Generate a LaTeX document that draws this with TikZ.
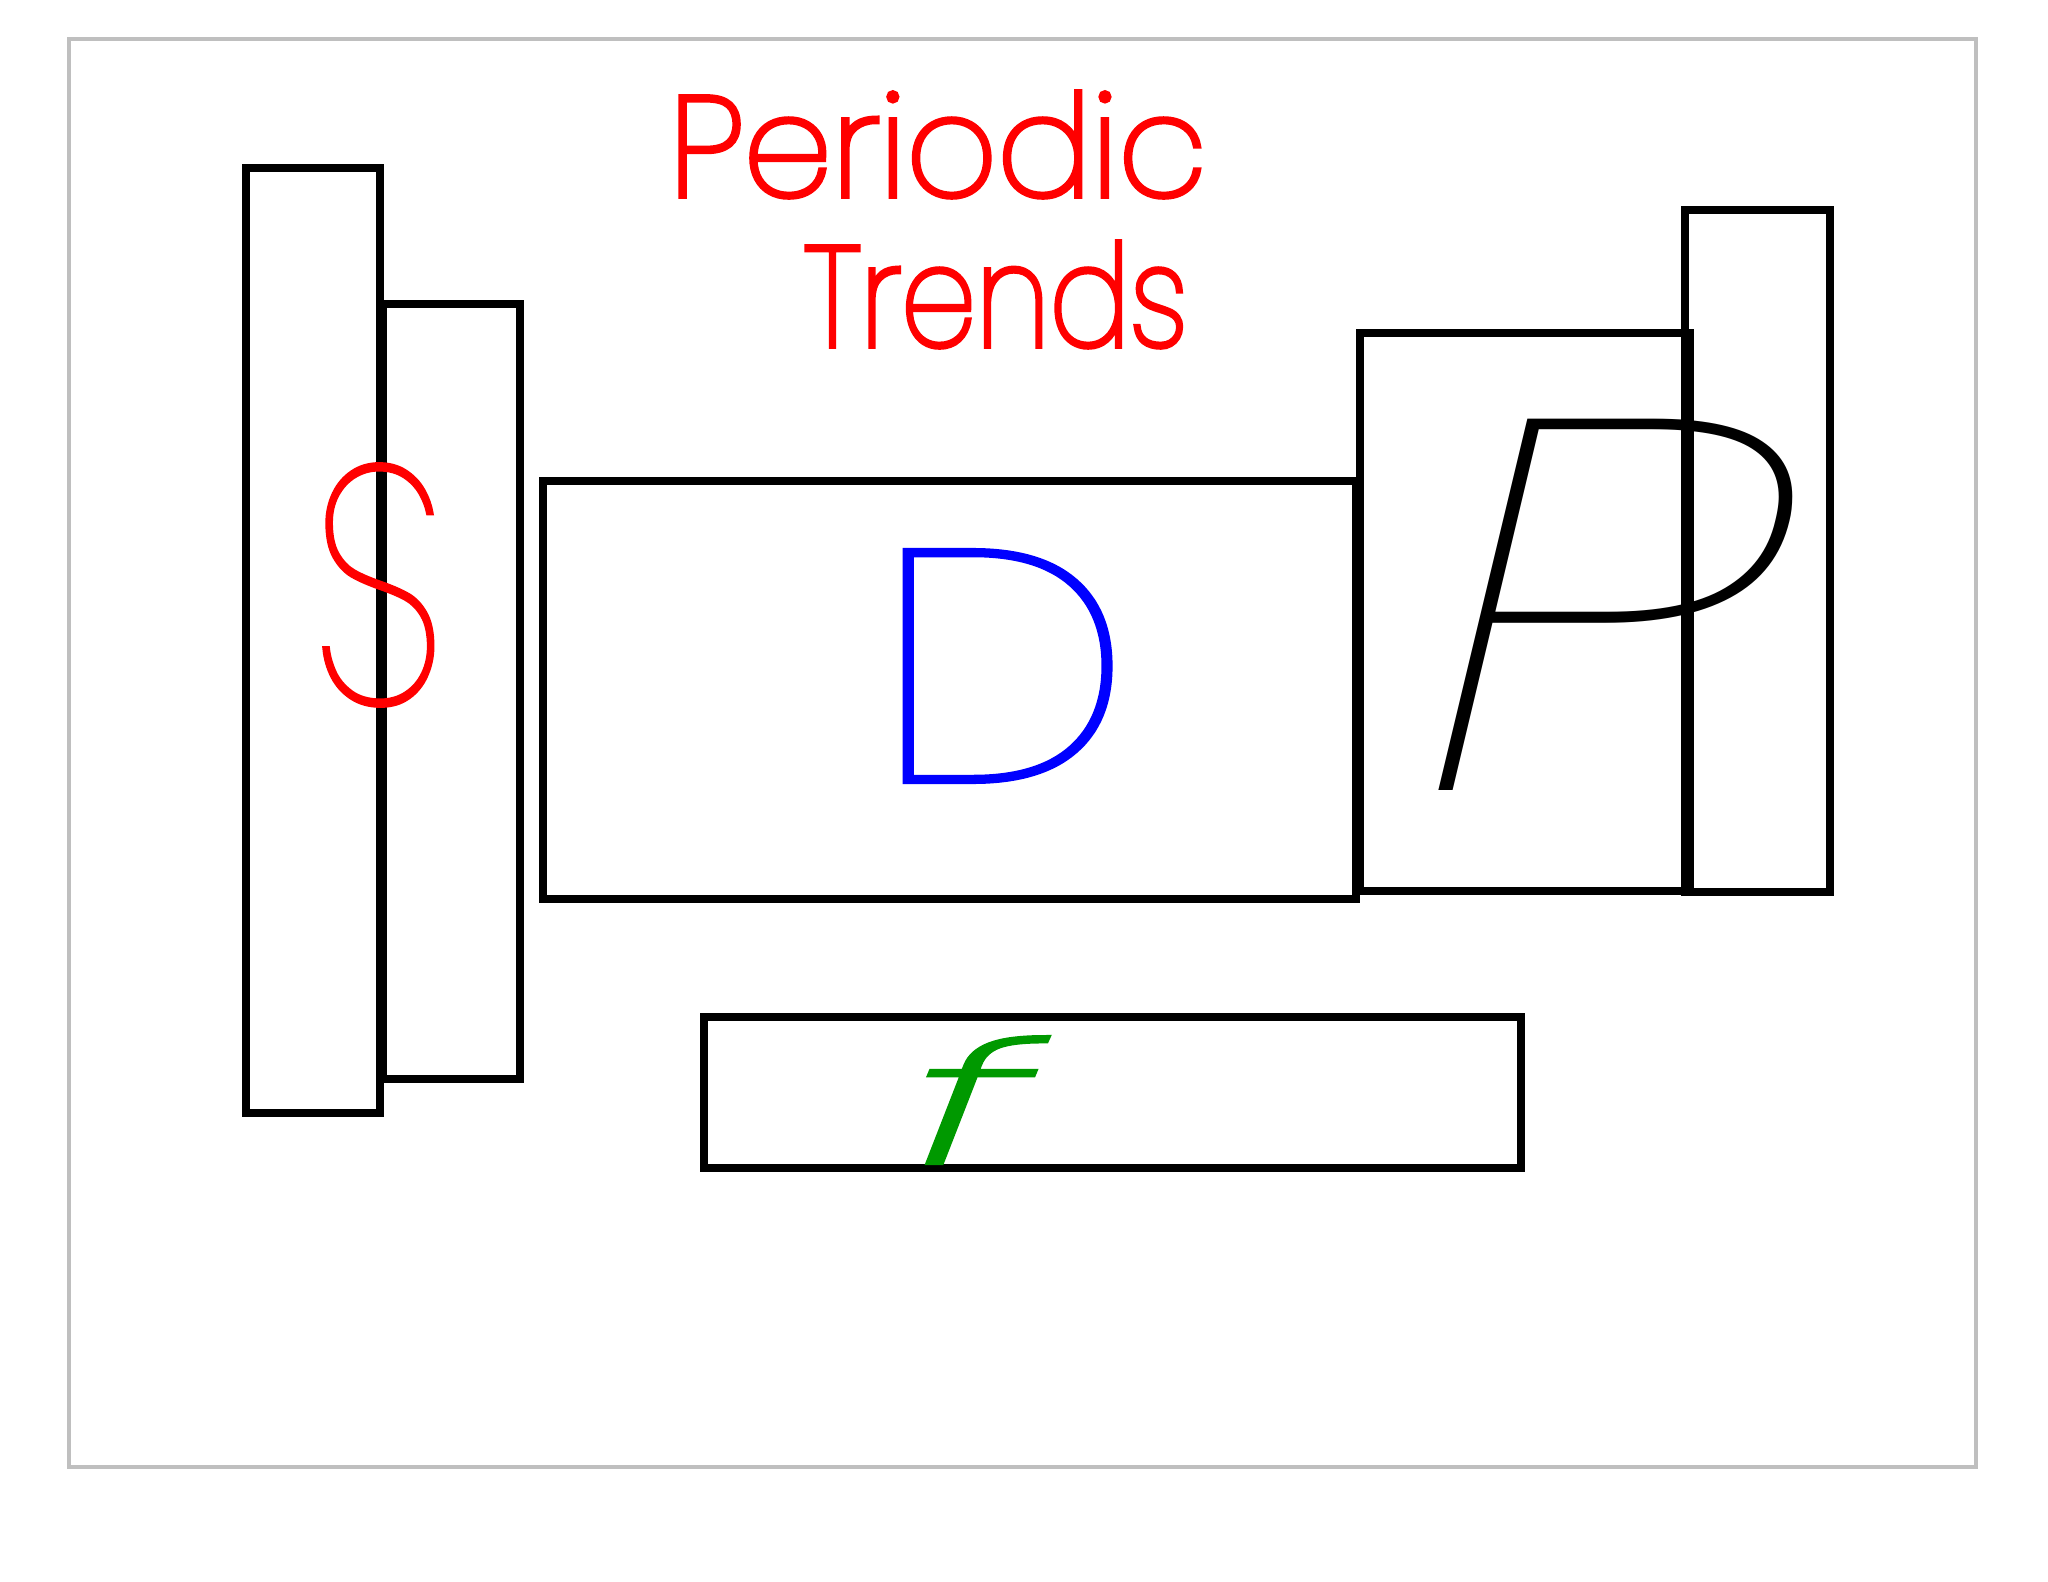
\documentclass[tikz,border=0pt]{standalone}
\usepackage{fontspec}
\setmainfont{Liberation Sans}
\newfontfamily\handfont{Poppins}[UprightFont={* Thin}, ItalicFont={* Thin Italic}]
\newfontfamily\handbig{Poppins}[UprightFont={* Thin}, ItalicFont={* Thin Italic}, FakeBold=1]
\newfontfamily\handsmall{Poppins}[UprightFont={* Thin}, ItalicFont={* Thin Italic}, FakeBold=3]
\newfontfamily\handtitle{Poppins}[UprightFont={* Thin}, FakeBold=4]
\usepackage{graphicx}
\usetikzlibrary{positioning}

\begin{document}
\begin{tikzpicture}[x=0.01cm, y=-0.01cm,
    block/.style={draw=black, line width=2.1pt},
    frame/.style={draw=black!25, line width=0.9pt},
    hand/.style={inner sep=0pt, font=\handfont},
    title/.style={hand, text=red, font=\handtitle\fontsize{40}{44}\selectfont, anchor=base}]
\useasboundingbox (0,0) rectangle (2048,1582);
\fill[white] (0,0) rectangle (2048,1582);
\draw[frame] (69,39) rectangle (1976,1467);

% s block
\draw[block] (246,168) rectangle (380,1113);
\draw[block] (383,304) rectangle (520,1079);
% d block
\draw[block] (543,481) rectangle (1356,899);
% p block
\draw[block] (1360,333) rectangle (1690,891);
\draw[block] (1685,210) rectangle (1830,892);
% f block
\draw[block] (704,1017) rectangle (1521,1168);

\node[title] (periodic) at (938,196) {Periodic};
\node[title] (trends) at (996,346) {\scalebox{0.85}[1]{Trends}};

\node[hand, text=red, font=\handbig\fontsize{96}{96}\selectfont] (s) at (378,585) {\scalebox{0.75}[1]{S}};
\node[hand, text=blue, font=\handbig\fontsize{94}{94}\selectfont] (d) at (1003,666) {\scalebox{1.12}[1]{D}};
\node[hand, text=black, font=\handfont\itshape\fontsize{150}{150}\selectfont] (p) at (1600,605) {\scalebox{1.35}[1]{P}};
\node[hand, text=green!60!black, font=\handsmall\itshape\fontsize{48}{48}\selectfont] (f) at (968,1100) {\scalebox{2.2}[1]{f}};
\end{tikzpicture}
\end{document}
